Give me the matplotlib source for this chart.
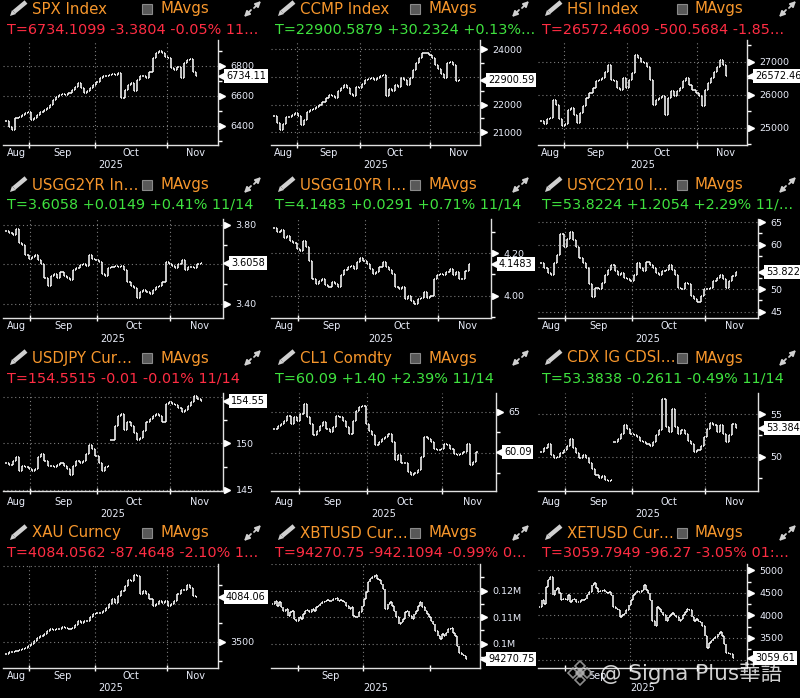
import matplotlib.pyplot as plt
from matplotlib.collections import LineCollection
from matplotlib.patches import Rectangle, Polygon
from matplotlib.transforms import blended_transform_factory

plt.rcParams['font.family'] = ['DejaVu Sans', 'Noto Sans CJK TC']

# ---- data: daily closes (Aug -> Nov 14, 2025) ----
spx = [6430, 6395, 6375, 6450, 6460, 6475, 6485, 6495, 6440, 6450, 6475, 6495, 6505, 6520, 6540, 6575,
       6595, 6605, 6615, 6605, 6620, 6640, 6660, 6685, 6650, 6618, 6630, 6650, 6675, 6695, 6718, 6730,
       6735, 6740, 6745, 6740, 6755, 6585, 6640, 6675, 6685, 6630, 6705, 6735, 6730, 6718, 6760, 6850,
       6885, 6900, 6885, 6862, 6850, 6785, 6775, 6795, 6718, 6820, 6840, 6845, 6760, 6734.11]
ccmp = [21600, 21350, 21100, 21300, 21550, 21560, 21620, 21700, 21600, 21250, 21450, 21750, 21800, 21850,
        21900, 22000, 22100, 22250, 22350, 22330, 22240, 22500, 22600, 22720, 22600, 22400, 22300, 22620,
        22600, 22750, 22900, 22920, 22950, 22900, 22980, 23050, 23080, 22300, 22550, 22500, 22700, 22650,
        22950, 22900, 22700, 22950, 23250, 23500, 23700, 23880, 23850, 23780, 23700, 23450, 23300, 23100,
        22980, 23500, 23550, 23450, 22850, 22900.59]
hsi = [25200, 25100, 25250, 25300, 25850, 25700, 25250, 25050, 25100, 25550, 25600, 25400, 25150, 25450,
       25650, 25900, 26050, 26200, 26400, 26450, 26500, 26700, 26900, 26450, 26400, 26200, 26150, 26500,
       26200, 26450, 26650, 27200, 27100, 27000, 26950, 26850, 26450, 25700, 25850, 25900, 25950, 25400,
       25900, 26100, 25950, 26100, 26200, 26400, 26500, 26300, 26150, 26050, 25950, 25650, 26150, 26350,
       26500, 26700, 26850, 27050, 26900, 26572.46]
usgg2 = [3.77, 3.76, 3.75, 3.78, 3.71, 3.70, 3.65, 3.63, 3.64, 3.65, 3.62, 3.60, 3.53, 3.49, 3.54, 3.55,
         3.53, 3.56, 3.54, 3.53, 3.52, 3.57, 3.58, 3.595, 3.60, 3.59, 3.65, 3.63, 3.62, 3.61, 3.55, 3.54,
         3.58, 3.585, 3.59, 3.585, 3.59, 3.57, 3.51, 3.49, 3.48, 3.43, 3.46, 3.47, 3.46, 3.45, 3.47, 3.485,
         3.49, 3.51, 3.61, 3.60, 3.59, 3.58, 3.60, 3.62, 3.57, 3.585, 3.585, 3.58, 3.60, 3.6058]
usgg10 = [4.32, 4.30, 4.31, 4.27, 4.28, 4.26, 4.25, 4.22, 4.21, 4.26, 4.23, 4.165, 4.08, 4.055, 4.07, 4.08,
          4.05, 4.04, 4.065, 4.055, 4.04, 4.095, 4.12, 4.135, 4.14, 4.125, 4.157, 4.18, 4.165, 4.15, 4.125,
          4.10, 4.11, 4.135, 4.16, 4.135, 4.12, 4.10, 4.04, 4.03, 4.04, 3.985, 4.00, 3.975, 3.96, 3.985,
          3.99, 4.015, 3.99, 4.00, 4.08, 4.095, 4.10, 4.095, 4.11, 4.125, 4.095, 4.11, 4.08, 4.08, 4.118,
          4.1483]
usyc = [55.9, 54.8, 53.7, 53.3, 55.9, 57.7, 62.4, 59.5, 61.3, 62.8, 61.0, 59.5, 57.0, 55.9, 54.8, 51.2,
        48.3, 50.4, 50.0, 51.5, 53.3, 54.4, 55.5, 54.0, 53.3, 53.7, 52.6, 52.2, 51.9, 53.3, 55.9, 54.8,
        54.0, 56.2, 55.5, 54.8, 53.7, 53.3, 54.0, 54.4, 55.5, 54.4, 53.3, 50.4, 50.0, 51.5, 51.2, 48.6,
        47.9, 47.2, 48.6, 50.1, 50.1, 50.4, 51.9, 52.6, 53.3, 52.2, 50.4, 51.9, 53.0, 53.822]
usdjpy = [147.9, 147.7, 148.1, 148.5, 147.0, 147.6, 147.4, 147.2, 147.0, 147.2, 148.5, 148.9, 148.1,
          147.6, 147.6, 147.4, 147.7, 147.9, 147.6, 147.2, 146.6, 147.6, 148.1, 147.9, 148.1, 148.9,
          149.8, 149.4, 148.6, 147.9, 147.0, 147.4, 147.6, 150.4, 151.9, 153.0, 153.2, 151.5, 152.3,
          151.9, 151.1, 150.4, 150.6, 151.3, 152.3, 152.6, 153.0, 153.2, 153.0, 152.3, 154.3, 154.5,
          154.3, 154.1, 153.8, 153.4, 153.6, 154.0, 154.5, 155.1, 154.8, 154.55]
cl1 = [62.9, 63.3, 63.5, 63.9, 64.5, 63.5, 64.3, 63.9, 64.7, 65.9, 64.3, 63.5, 62.1, 62.7, 63.3, 63.7,
       62.9, 62.5, 63.1, 64.5, 64.3, 63.9, 63.1, 62.3, 63.9, 65.1, 65.5, 65.7, 63.5, 62.7, 62.1, 60.9,
       61.3, 61.7, 61.9, 62.3, 61.3, 59.1, 59.7, 58.7, 58.7, 57.7, 57.3, 57.5, 57.9, 59.5, 61.9, 61.7,
       61.3, 60.5, 60.3, 60.5, 61.1, 60.9, 60.5, 59.9, 59.7, 59.9, 60.1, 61.1, 58.5, 58.9, 60.09]
cdx = [50.6, 51.0, 51.5, 50.2, 49.8, 50.0, 50.4, 50.8, 51.3, 52.1, 51.0, 50.4, 49.8, 50.2, 49.8, 49.2,
       48.5, 47.9, 47.5, 47.7, 47.3, 47.1, 47.3, 51.7, 52.1, 52.7, 53.7, 53.3, 52.7, 52.5, 52.3, 51.9,
       51.7, 51.5, 51.3, 51.7, 52.5, 53.1, 56.8, 53.5, 52.9, 55.6, 53.5, 52.7, 53.1, 52.7, 51.9, 51.5,
       50.6, 50.8, 51.3, 52.3, 53.3, 54.0, 53.7, 52.9, 53.7, 52.7, 51.7, 52.5, 53.8, 53.384]
xau = [3339, 3361, 3370, 3383, 3396, 3404, 3426, 3448, 3470, 3513, 3557, 3578, 3600, 3643, 3665, 3657,
       3665, 3674, 3700, 3687, 3665, 3687, 3717, 3774, 3752, 3774, 3774, 3830, 3861, 3874, 3883, 3904,
       3948, 3991, 4057, 4013, 4100, 4165, 4230, 4317, 4296, 4383, 4360, 4122, 4165, 4122, 4057, 3970,
       3991, 4035, 4013, 4035, 3970, 3991, 4035, 4122, 4187, 4187, 4252, 4209, 4100, 4084.06]
xbt = [114900, 116200, 114300, 115600, 113700, 112400, 113000, 110500, 111800, 112400, 109200, 108600,
       109900, 109200, 111100, 112400, 112700, 111800, 113000, 112400, 113700, 114300, 114900, 115600,
       116200, 116500, 116000, 116200, 116800, 117200, 116200, 116500, 116000, 115600, 114300, 113000,
       113700, 110500, 109900, 110100, 111800, 114300, 116800, 119400, 123200, 124400, 125100, 125700,
       124400, 123800, 122500, 120600, 113000, 114900, 115600, 114300, 112400, 109900, 107300, 108000,
       109200, 111800, 112400, 110500, 109200, 111100, 112400, 114300, 115600, 113700, 112400, 111100,
       109900, 108600, 107300, 104800, 102900, 101600, 103500, 102900, 104200, 105400, 106100, 104200,
       102900, 99100, 96600, 95900, 95300, 94270.75]
xet = [4188, 4338, 4263, 4639, 4789, 4865, 4451, 4564, 4601, 4489, 4338, 4376, 4338, 4451, 4301, 4338,
       4376, 4301, 4301, 4338, 4353, 4376, 4451, 4526, 4677, 4714, 4601, 4526, 4549, 4564, 4526, 4489,
       4526, 4451, 4188, 4150, 4113, 3962, 4000, 4037, 4113, 4225, 4338, 4451, 4504, 4549, 4526, 4564,
       4677, 4564, 4489, 4338, 3887, 3774, 4188, 4150, 4075, 4000, 3887, 3962, 4000, 4052, 4000, 3962,
       3887, 3925, 4000, 4075, 4150, 4113, 3962, 3887, 3925, 3887, 3849, 3774, 3549, 3286, 3398, 3436,
       3473, 3511, 3586, 3624, 3549, 3361, 3173, 3135, 3150, 3059.61]

tickers = ['SPX Index', 'CCMP Index', 'HSI Index',
           'USGG2YR In…', 'USGG10YR I…', 'USYC2Y10 I…',
           'USDJPY Cur…', 'CL1 Comdty', 'CDX IG CDSI…',
           'XAU Curncy', 'XBTUSD Cur…', 'XETUSD Cur…']
quotes = ['T=6734.1099 -3.3804 -0.05% 11…', 'T=22900.5879 +30.2324 +0.13%…', 'T=26572.4609 -500.5684 -1.85…',
          'T=3.6058 +0.0149 +0.41% 11/14', 'T=4.1483 +0.0291 +0.71% 11/14', 'T=53.8224 +1.2054 +2.29% 11/…',
          'T=154.5515 -0.01 -0.01% 11/14', 'T=60.09 +1.40 +2.39% 11/14', 'T=53.3838 -0.2611 -0.49% 11/14',
          'T=4084.0562 -87.4648 -2.10% 1…', 'T=94270.75 -942.1094 -0.99% 0…', 'T=3059.7949 -96.27 -3.05% 01:…']
quote_green = [False, True, False, True, True, True, False, True, True, False, False, False]
last_labels = ['6734.11', '22900.59', '26572.46', '3.6058', '4.1483', '53.822',
               '154.55', '60.09', '53.384', '4084.06', '94270.75', '3059.61']

# y axis settings per panel: limits, gridlines, labelled ticks, minor ticks
ylims = [(6273, 6973), (20540, 24337), (24476, 27657), (3.329, 3.830), (3.894, 4.362), (43.57, 65.74),
         (144.85, 155.45), (55.36, 67.26), (45.96, 57.5), (3157, 4522), (90870, 130000), (2833, 5144)]
ygrids = [[6400, 6600, 6800], [21000, 22000, 23000, 24000], [25000, 26000, 27000],
          [3.40, 3.60, 3.80], [4.00, 4.20], [45, 50, 55, 60, 65],
          [145, 150, 155], [60, 65], [50, 55],
          [3500, 4000, 4500], [100000, 110000, 120000, 130000], [3000, 3500, 4000, 4500, 5000]]
yticks = [([6400, 6600, 6800], ['6400', '6600', '6800']),
          ([21000, 22000, 24000], ['21000', '22000', '24000']),
          ([25000, 26000, 27000], ['25000', '26000', '27000']),
          ([3.40, 3.80], ['3.40', '3.80']),
          ([4.00, 4.20], ['4.00', '4.20']),
          ([45, 50, 60, 65], ['45', '50', '60', '65']),
          ([145, 150], ['145', '150']),
          ([65], ['65']),
          ([50, 55], ['50', '55']),
          ([3500], ['3500']),
          ([100000, 110000, 120000], ['0.1M', '0.11M', '0.12M']),
          ([3500, 4000, 4500, 5000], ['3500', '4000', '4500', '5000'])]
yminor = [[6300, 6500, 6700, 6900], [21500, 22500, 23500], [24500, 25500, 26500, 27500],
          [3.50, 3.70], [3.90, 4.10, 4.30], [47.5, 52.5, 57.5, 62.5],
          [147.5, 152.5], [57.5, 62.5], [47.5, 52.5],
          [3250, 3750, 4250], [95000, 105000, 115000, 125000], [3250, 3750, 4250, 4750]]
gaps = {6: [33], 8: [23]}

series = [spx, ccmp, hsi, usgg2, usgg10, usyc, usdjpy, cl1, cdx, xau, xbt, xet]
crypto = [False] * 10 + [True, True]

# ---- layout (pixels) ----
W, H = 800, 698
col_x = [0, 268, 535]
row_top = [40, 219, 393, 564]
row_bot = [145, 318, 491, 668]
row_title = [9, 185, 358, 533]
row_quote = [30, 204, 378, 553]
row_month = [153, 326, 502, 676]
row_year = [165, 339, 514, 688]
rights = [[218, 480, 747], [223, 491, 758], [223, 496, 758], [218, 480, 747]]

ORANGE = '#f7972c'
RED = '#ff2d43'
GREEN = '#3fe23f'
LBL = '#e8ecf8'
GRID = '#7c7c7c'
ICON = '#d0d0d0'

fig = plt.figure(figsize=(8, 6.98), dpi=100, facecolor='black')


def draw_panel(k):
    r, c = divmod(k, 3)
    left = col_x[c] + 3
    right = rights[r][c]
    top, bot = row_top[r], row_bot[r]
    wpx = right - left
    ax = fig.add_axes([left / W, 1 - bot / H, wpx / W, (bot - top) / H])
    ax.set_facecolor('black')

    # OHLC-style bars: open taken at the previous close
    closes = series[k]
    segs = []
    prev = None
    for i, cl in enumerate(closes):
        op = cl if (prev is None or i in gaps.get(k, [])) else prev
        segs.append([(i, min(op, cl)), (i, max(op, cl))])
        segs.append([(i - 0.35, op), (i, op)])
        segs.append([(i, cl), (i + 0.35, cl)])
        prev = cl
    ax.add_collection(LineCollection(segs, colors='white', linewidths=1.1, zorder=3))

    if crypto[k]:
        bounds = [11.5, 41.5, 72.5]
        xlim = (-0.7, 95.5)
        vgrid = [41.5]
        months = [('Sep', 26.5)]
    else:
        bounds = [7.5, 28.5, 51.5]
        xlim = (-1, 68)
        vgrid = bounds
        months = [('Aug', 3.25), ('Sep', 18), ('Oct', 40), ('Nov', 60.75)]
    ax.set_xlim(*xlim)
    ax.set_ylim(*ylims[k])

    for g in ygrids[k]:
        ax.axhline(g, color=GRID, lw=0.8, ls=(0, (1, 2.5)), zorder=1)
    for v in vgrid:
        ax.axvline(v, color=GRID, lw=0.8, ls=(0, (1, 2.5)), zorder=1)

    for s in ['top', 'left']:
        ax.spines[s].set_visible(False)
    for s in ['right', 'bottom']:
        ax.spines[s].set_color('#e0e0e0')
        ax.spines[s].set_linewidth(1.0)

    ax.set_xticks(bounds)
    ax.tick_params(axis='x', direction='inout', length=5, width=1, color='white', labelbottom=False)
    ax.yaxis.tick_right()
    ax.set_yticks(yticks[k][0], yticks[k][1])
    ax.set_yticks(yminor[k], minor=True)
    ax.tick_params(axis='y', which='major', length=0, pad=9, labelsize=6.8, labelcolor=LBL)
    ax.tick_params(axis='y', which='minor', length=3, width=1, color='white', direction='out')

    trans = blended_transform_factory(ax.transAxes, ax.transData)
    ax.plot([1 + 4 / wpx] * len(yticks[k][0]), yticks[k][0], ls='none', marker='>', ms=4,
            color='white', transform=trans, clip_on=False)

    # last value box
    last = closes[-1]
    ax.plot([1 + 4 / wpx], [last], ls='none', marker='<', ms=6, color='white',
            transform=trans, clip_on=False, zorder=6)
    ax.text(1 + 8 / wpx, last, last_labels[k], transform=trans, ha='left', va='center',
            fontsize=7, color='black', clip_on=False, zorder=7,
            bbox=dict(boxstyle='square,pad=0.2', fc='white', ec='none'))

    # month and year labels
    dm = (row_month[r] - bot) * 0.72
    dy = (row_year[r] - bot) * 0.72
    for name, xm in months:
        ax.annotate(name, xy=(xm, 0), xycoords=('data', 'axes fraction'), xytext=(0, -dm),
                    textcoords='offset points', ha='center', va='center', fontsize=7, color=LBL,
                    annotation_clip=False)
    ax.annotate('2025', xy=(0.5, 0), xycoords='axes fraction', xytext=(0, -dy),
                textcoords='offset points', ha='center', va='center', fontsize=7, color=LBL,
                annotation_clip=False)


for k in range(12):
    draw_panel(k)

# ---- header rows and watermark drawn in pixel space ----
ov = fig.add_axes([0, 0, 1, 1])
ov.set_xlim(0, W)
ov.set_ylim(H, 0)
ov.axis('off')
ov.patch.set_alpha(0)

for k in range(12):
    r, c = divmod(k, 3)
    x0 = col_x[c]
    ty = row_title[r]
    # pencil icon
    ov.plot([x0 + 14, x0 + 26], [ty + 3, ty - 7], color=ICON, lw=3.2, solid_capstyle='butt')
    ov.add_patch(Polygon([(x0 + 10, ty + 7), (x0 + 12, ty + 1), (x0 + 16, ty + 5)], closed=True,
                         fc=ICON, ec='none'))
    ov.text(x0 + 32, ty, tickers[k], color=ORANGE, fontsize=10.8, va='center', ha='left')
    ov.add_patch(Rectangle((x0 + 142, ty - 5), 10, 10, fc='#585858', ec='#8a8a8a', lw=0.8))
    ov.text(x0 + 160, ty, 'MAvgs', color=ORANGE, fontsize=10.8, va='center', ha='left')
    # expand icon: two arrows pointing outwards
    ov.annotate('', xy=(x0 + 261, ty - 8), xytext=(x0 + 254, ty - 1),
                arrowprops=dict(arrowstyle='-|>', color=ICON, lw=1.3, mutation_scale=8,
                                shrinkA=0, shrinkB=0))
    ov.annotate('', xy=(x0 + 244, ty + 8), xytext=(x0 + 251, ty + 1),
                arrowprops=dict(arrowstyle='-|>', color=ICON, lw=1.3, mutation_scale=8,
                                shrinkA=0, shrinkB=0))
    ov.text(x0 + 7, row_quote[r], quotes[k], color=GREEN if quote_green[k] else RED,
            fontsize=10.4, va='center', ha='left')

# watermark
for dx, dy in [(0, 0), (-7, 0), (7, 0), (0, -7), (0, 7)]:
    ov.plot(580 + dx, 673 + dy, marker='D', ms=5 if (dx or dy) else 4,
            mfc='none' if (dx or dy) else '#b0b0b0', mec='#b0b0b0', mew=1.2, alpha=0.8)
ov.text(600, 673, '@ Signa Plus華語', color='white', alpha=0.82, fontsize=15.5, va='center', ha='left',
        family=['DejaVu Sans', 'Noto Sans CJK TC'])

fig.savefig('out.png', dpi=100, facecolor='black')
